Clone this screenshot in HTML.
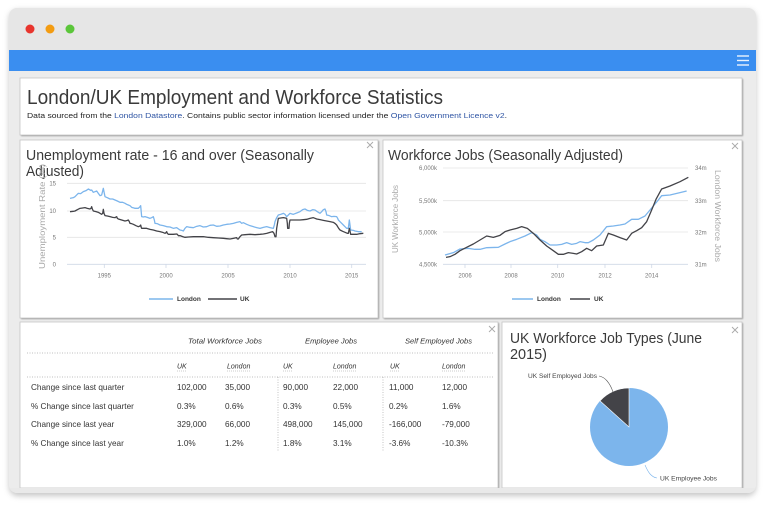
<!DOCTYPE html>
<html><head><meta charset="utf-8"><style>
html,body{margin:0;padding:0;background:#fff;}
svg{display:block;}
text{font-family:"Liberation Sans",sans-serif;}
</style></head><body>
<svg width="768" height="507" viewBox="0 0 768 507" xmlns="http://www.w3.org/2000/svg">
<defs>
<filter id="ws" x="-10%" y="-10%" width="120%" height="120%"><feGaussianBlur stdDeviation="3"/></filter>
<filter id="cs" x="-5%" y="-5%" width="110%" height="110%"><feGaussianBlur stdDeviation="0.8"/></filter>
<clipPath id="win"><rect x="9" y="8" width="747" height="485" rx="8"/></clipPath>
</defs>
<rect x="0" y="0" width="768" height="507" fill="#fff"/>
<rect x="9" y="10" width="747" height="486" rx="9" fill="#9a9a9a" opacity="0.55" filter="url(#ws)"/>
<g clip-path="url(#win)">
<rect x="9" y="8" width="747" height="485" fill="#ececec"/>
<rect x="9" y="8" width="747" height="42" fill="#e6e6e6"/>
<circle cx="30" cy="29" r="4.5" fill="#e8352d"/>
<circle cx="50" cy="29" r="4.5" fill="#f39c12"/>
<circle cx="70" cy="29" r="4.5" fill="#5bc63a"/>
<rect x="9" y="50" width="747" height="21" fill="#3a8ef0"/>
<g stroke="#fff" stroke-width="1.4" opacity="0.9"><line x1="737" y1="56" x2="749" y2="56"/><line x1="737" y1="60.5" x2="749" y2="60.5"/><line x1="737" y1="65" x2="749" y2="65"/></g>

<g fill="#8c8c8c" filter="url(#cs)">
<rect x="21" y="79" width="722" height="57"/>
<rect x="21" y="141" width="358" height="178"/>
<rect x="384" y="141" width="359" height="178"/>
<rect x="21" y="323" width="478" height="166"/>
<rect x="503" y="323" width="240" height="166"/>
</g>
<g fill="#fff" stroke="#c6c6c6" stroke-width="0.8">
<rect x="20" y="78" width="722" height="57"/>
<rect x="20" y="140" width="358" height="178"/>
<rect x="383" y="140" width="359" height="178"/>
<rect x="20" y="322" width="478" height="166"/>
<rect x="502" y="322" width="240" height="166"/>
</g>

<text x="27" y="104" font-size="20" fill="#3a3a3a" textLength="416" lengthAdjust="spacingAndGlyphs">London/UK Employment and Workforce Statistics</text>
<text x="27" y="118" font-size="7.5" fill="#222" textLength="480" lengthAdjust="spacingAndGlyphs">Data sourced from the <tspan fill="#2f55a4">London Datastore</tspan>. Contains public sector information licensed under the <tspan fill="#2f55a4">Open Government Licence v2</tspan>.</text>

<g stroke="#aaa" stroke-width="0.9">
<path d="M367,142 l6,6 M373,142 l-6,6"/>
<path d="M732,143 l6,6 M738,143 l-6,6"/>
<path d="M489,326 l6,6 M495,326 l-6,6"/>
<path d="M732,327 l6,6 M738,327 l-6,6"/>
</g>

<!-- Chart 1 -->
<text x="26" y="160" font-size="15" fill="#3a3a3a" textLength="288" lengthAdjust="spacingAndGlyphs">Unemployment rate - 16 and over (Seasonally</text>
<text x="26" y="176" font-size="15" fill="#3a3a3a" textLength="58" lengthAdjust="spacingAndGlyphs">Adjusted)</text>
<g stroke="#e4e4e4" stroke-width="0.8">
<line x1="67" y1="183.3" x2="366" y2="183.3"/>
<line x1="67" y1="211" x2="366" y2="211"/>
<line x1="67" y1="237.3" x2="366" y2="237.3"/>
</g>
<line x1="67" y1="264.3" x2="366" y2="264.3" stroke="#cfd8e6" stroke-width="0.8"/>
<g stroke="#cfd8e6" stroke-width="0.8">
<line x1="104.3" y1="264.3" x2="104.3" y2="268"/><line x1="166" y1="264.3" x2="166" y2="268"/><line x1="228" y1="264.3" x2="228" y2="268"/><line x1="290" y1="264.3" x2="290" y2="268"/><line x1="351.7" y1="264.3" x2="351.7" y2="268"/>
</g>
<g font-size="6" fill="#777" text-anchor="end">
<text x="56" y="185.5">15</text><text x="56" y="213">10</text><text x="56" y="239.5">5</text><text x="56" y="266.5">0</text>
</g>
<g font-size="6" fill="#777" text-anchor="middle">
<text x="104.3" y="277.5">1995</text><text x="166" y="277.5">2000</text><text x="228" y="277.5">2005</text><text x="290" y="277.5">2010</text><text x="351.7" y="277.5">2015</text>
</g>
<text transform="translate(45,216.5) rotate(-90)" font-size="8.5" fill="#aaa" text-anchor="middle" textLength="105" lengthAdjust="spacingAndGlyphs">Unemployment Rate (%)</text>
<g transform="translate(60,175) scale(0.33333)" fill="none" stroke-linejoin="round">
<polyline stroke="#7cb5ec" stroke-width="1.3" vector-effect="non-scaling-stroke" points="30,70 40,68 45,65 52,58 55,55 62,56 70,50 78,47 85,42 92,46 95,45 100,52 105,50 110,48 115,55 120,62 125,60 130,40 133,55 135,65 142,68 150,72 158,72 165,75 172,78 180,82 188,82 195,85 200,88 205,90 210,92 215,97 222,99 225,100 232,100 235,100 240,95 242,92 245,125 250,126 255,125 262,127 270,130 275,128 280,125 283,135 285,145 292,146 300,150 310,152 320,155 330,156 340,160 350,158 360,165 365,166 370,168 375,160 380,155 390,157 400,158 410,154 420,152 430,156 440,155 450,151 460,150 470,154 480,153 490,150 500,148 510,147 520,145 530,142 540,140 545,145 550,143 560,148 570,152 580,155 590,158 600,160 610,157 620,155 630,158 640,160 643,150 645,140 650,128 655,120 662,118 670,115 675,118 680,125 685,120 690,115 700,118 710,114 720,110 728,104 735,102 742,106 750,108 758,104 765,105 772,110 780,115 785,110 790,104 795,102 798,110 800,120 808,122 815,125 822,124 830,125 833,130 835,135 840,140 845,145 850,150 855,155 860,160 865,160 868,135 870,150 872,165 880,166 885,168 895,170 905,170"/>
<polyline stroke="#434348" stroke-width="1.3" vector-effect="non-scaling-stroke" points="30,110 40,109 45,108 52,104 60,100 68,99 75,98 82,100 90,102 93,100 95,95 97,102 100,108 108,110 115,112 120,115 125,118 128,115 130,103 132,115 135,122 142,123 150,125 158,127 165,128 168,126 170,125 172,130 175,132 185,135 195,138 200,137 205,135 208,140 210,145 215,146 220,148 228,152 235,155 240,153 242,150 244,158 245,160 252,160 260,160 270,163 280,165 290,168 300,170 308,172 315,175 318,173 320,170 322,175 325,178 335,178 340,178 350,177 352,178 355,182 360,182 368,185 375,187 385,186 400,185 415,185 430,185 445,187 460,188 475,189 490,190 500,191 510,192 520,190 530,188 532,192 535,192 540,185 545,180 555,179 570,178 585,179 600,178 610,177 620,175 630,172 638,170 642,175 645,185 648,185 650,160 655,130 662,129 670,128 676,129 680,130 682,145 683,160 687,160 688,145 690,135 700,135 710,135 720,135 730,134 740,133 750,130 760,128 765,130 770,132 780,134 790,136 800,138 810,140 820,142 826,146 830,150 833,155 836,160 840,165 848,169 855,172 862,175 865,175 868,160 870,168 872,178 880,178 890,178 900,176 910,175"/>
</g>
<line x1="149" y1="299" x2="173" y2="299" stroke="#7cb5ec" stroke-width="1.5"/>
<text x="177" y="301.2" font-size="6.5" font-weight="bold" fill="#333">London</text>
<line x1="208" y1="299" x2="237" y2="299" stroke="#434348" stroke-width="1.5"/>
<text x="240" y="301.2" font-size="6.5" font-weight="bold" fill="#333">UK</text>

<!-- Chart 2 -->
<text x="388" y="160" font-size="15" fill="#3a3a3a" textLength="235" lengthAdjust="spacingAndGlyphs">Workforce Jobs (Seasonally Adjusted)</text>
<g stroke="#e4e4e4" stroke-width="0.8">
<line x1="443" y1="168" x2="688" y2="168"/>
<line x1="443" y1="200.7" x2="688" y2="200.7"/>
<line x1="443" y1="232" x2="688" y2="232"/>
</g>
<line x1="443" y1="264.3" x2="688" y2="264.3" stroke="#cfd8e6" stroke-width="0.8"/>
<g stroke="#cfd8e6" stroke-width="0.8">
<line x1="465" y1="264.3" x2="465" y2="268"/><line x1="511" y1="264.3" x2="511" y2="268"/><line x1="557.7" y1="264.3" x2="557.7" y2="268"/><line x1="605" y1="264.3" x2="605" y2="268"/><line x1="651.7" y1="264.3" x2="651.7" y2="268"/>
</g>
<g font-size="6" fill="#777" text-anchor="end">
<text x="437" y="170">6,000k</text><text x="437" y="203">5,500k</text><text x="437" y="234.5">5,000k</text><text x="437" y="266.5">4,500k</text>
</g>
<g font-size="6" fill="#777">
<text x="695" y="170">34m</text><text x="695" y="203">33m</text><text x="695" y="234.5">32m</text><text x="695" y="266.5">31m</text>
</g>
<g font-size="6" fill="#777" text-anchor="middle">
<text x="465" y="277.5">2006</text><text x="511" y="277.5">2008</text><text x="557.7" y="277.5">2010</text><text x="605" y="277.5">2012</text><text x="651.7" y="277.5">2014</text>
</g>
<text transform="translate(398,219) rotate(-90)" font-size="8" fill="#aaa" text-anchor="middle" textLength="68" lengthAdjust="spacingAndGlyphs">UK Workforce Jobs</text>
<text transform="translate(715,216) rotate(90)" font-size="8" fill="#aaa" text-anchor="middle" textLength="92" lengthAdjust="spacingAndGlyphs">London Workforce Jobs</text>
<g transform="translate(440,160) scale(0.33333)" fill="none" stroke-linejoin="round">
<polyline stroke="#7cb5ec" stroke-width="1.3" vector-effect="non-scaling-stroke" points="15,285 40,278 60,267 85,265 105,268 120,268 140,263 175,262 195,252 210,245 230,238 255,228 275,218 290,225 300,238 315,245 330,255 350,255 365,253 380,248 395,253 410,250 420,245 435,248 445,248 460,240 480,225 500,200 520,198 540,195 555,192 575,178 595,178 615,168 630,150 640,138 655,120 665,107 690,105 720,98 740,93"/>
<polyline stroke="#434348" stroke-width="1.3" vector-effect="non-scaling-stroke" points="18,292 30,290 45,283 60,272 80,262 100,252 120,240 140,228 160,232 180,226 195,215 210,210 230,205 245,200 262,205 280,220 300,240 320,258 340,272 355,283 370,283 385,278 400,280 410,282 425,275 440,265 455,272 470,258 490,255 505,220 520,225 540,233 560,240 575,220 590,212 605,203 620,185 635,150 648,118 665,87 690,78 720,65 745,52"/>
</g>
<line x1="512" y1="299" x2="533" y2="299" stroke="#7cb5ec" stroke-width="1.5"/>
<text x="537" y="301.2" font-size="6.5" font-weight="bold" fill="#333">London</text>
<line x1="570" y1="299" x2="590" y2="299" stroke="#434348" stroke-width="1.5"/>
<text x="594" y="301.2" font-size="6.5" font-weight="bold" fill="#333">UK</text>

<!-- Table -->
<g font-size="7" font-style="italic" fill="#333">
<text x="188" y="343.5" textLength="74" lengthAdjust="spacingAndGlyphs">Total Workforce Jobs</text>
<text x="305" y="343.5" textLength="52" lengthAdjust="spacingAndGlyphs">Employee Jobs</text>
<text x="405" y="343.5" textLength="67" lengthAdjust="spacingAndGlyphs">Self Employed Jobs</text>
<text x="177" y="368.5">UK</text><text x="227" y="368.5">London</text>
<text x="283" y="368.5">UK</text><text x="333" y="368.5">London</text>
<text x="390" y="368.5">UK</text><text x="442" y="368.5">London</text>
</g>
<g stroke="#999" stroke-width="0.6" stroke-dasharray="1,1">
<line x1="177" y1="371" x2="186" y2="371"/><line x1="227" y1="371" x2="250" y2="371"/>
<line x1="283" y1="371" x2="292" y2="371"/><line x1="333" y1="371" x2="356" y2="371"/>
<line x1="390" y1="371" x2="399" y2="371"/><line x1="442" y1="371" x2="465" y2="371"/>
</g>
<g stroke="#aaa" stroke-width="0.7" stroke-dasharray="1,1.5">
<line x1="27" y1="353" x2="493" y2="353"/>
<line x1="27" y1="377" x2="493" y2="377"/>
<line x1="278" y1="377" x2="278" y2="452"/>
<line x1="383" y1="377" x2="383" y2="452"/>
</g>
<g font-size="8.2" fill="#333">
<text x="31" y="390">Change since last quarter</text>
<text x="31" y="409">% Change since last quarter</text>
<text x="31" y="427">Change since last year</text>
<text x="31" y="446">% Change since last year</text>
<text x="177" y="390">102,000</text><text x="225" y="390">35,000</text><text x="283" y="390">90,000</text><text x="333" y="390">22,000</text><text x="389" y="390">11,000</text><text x="442" y="390">12,000</text>
<text x="177" y="409">0.3%</text><text x="225" y="409">0.6%</text><text x="283" y="409">0.3%</text><text x="333" y="409">0.5%</text><text x="389" y="409">0.2%</text><text x="442" y="409">1.6%</text>
<text x="177" y="427">329,000</text><text x="225" y="427">66,000</text><text x="283" y="427">498,000</text><text x="333" y="427">145,000</text><text x="389" y="427">-166,000</text><text x="442" y="427">-79,000</text>
<text x="177" y="446">1.0%</text><text x="225" y="446">1.2%</text><text x="283" y="446">1.8%</text><text x="333" y="446">3.1%</text><text x="389" y="446">-3.6%</text><text x="442" y="446">-10.3%</text>
</g>

<!-- Pie -->
<text x="510" y="343" font-size="15" fill="#3a3a3a" textLength="192" lengthAdjust="spacingAndGlyphs">UK Workforce Job Types (June</text>
<text x="510" y="359" font-size="15" fill="#3a3a3a" textLength="37" lengthAdjust="spacingAndGlyphs">2015)</text>
<circle cx="629" cy="427" r="39" fill="#7cb5ec"/>
<path d="M629,427 L629,388 A39,39 0 0,0 600,400.9 Z" fill="#434348" stroke="#fff" stroke-width="0.6"/>
<path d="M599,376 C605,377 610,383 613,392" fill="none" stroke="#555" stroke-width="0.6"/>
<text x="528" y="378" font-size="6" fill="#444" textLength="69" lengthAdjust="spacingAndGlyphs">UK Self Employed Jobs</text>
<path d="M645,465 C648,472 651,477 657,478" fill="none" stroke="#7cb5ec" stroke-width="0.6"/>
<text x="660" y="480.5" font-size="6" fill="#444" textLength="57" lengthAdjust="spacingAndGlyphs">UK Employee Jobs</text>

<rect x="9" y="488" width="747" height="6" fill="#e9e9e9"/>
</g>
</svg>
</body></html>
